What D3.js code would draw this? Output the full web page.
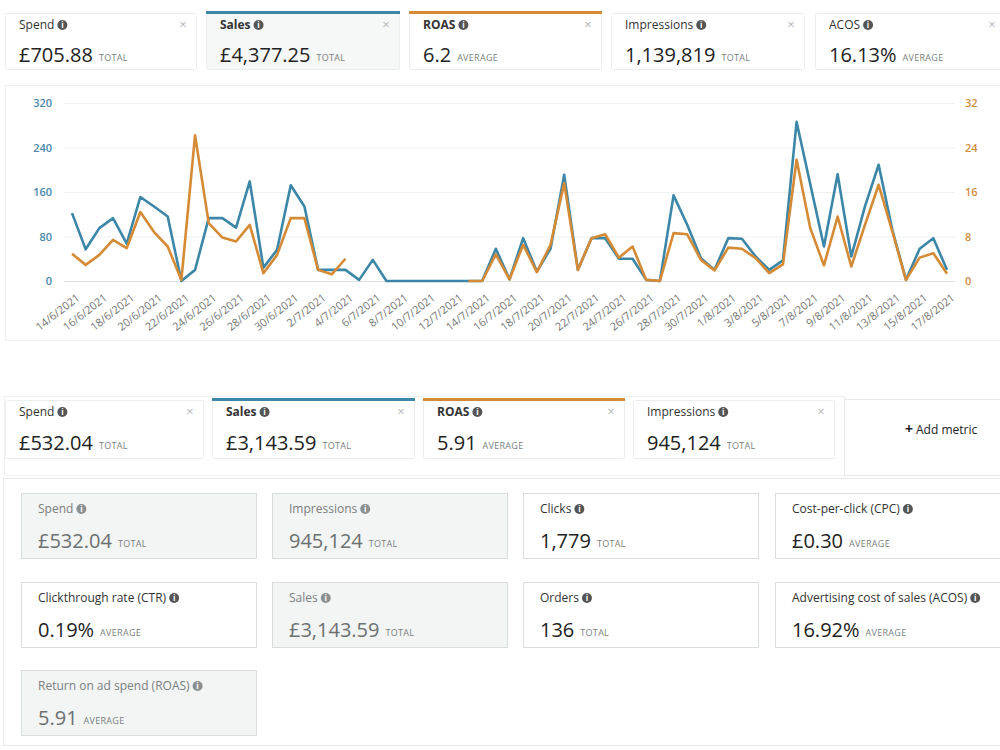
<!DOCTYPE html>
<html>
<head>
<meta charset="utf-8">
<script src="https://cdn.jsdelivr.net/npm/d3@7"></script>
<style>
    body { margin: 0; background: #fff; }
    svg { font-family: "Open Sans", "Noto Sans", sans-serif; display: block; }
</style>
</head>
<body>
<div id="dash"></div>
<script>
'use strict';

// Chart data
const dates = [
    '14/6/2021', '15/6/2021', '16/6/2021', '17/6/2021', '18/6/2021', '19/6/2021', '20/6/2021', '21/6/2021',
    '22/6/2021', '23/6/2021', '24/6/2021', '25/6/2021', '26/6/2021', '27/6/2021', '28/6/2021', '29/6/2021',
    '30/6/2021', '1/7/2021', '2/7/2021', '3/7/2021', '4/7/2021', '5/7/2021', '6/7/2021', '7/7/2021',
    '8/7/2021', '9/7/2021', '10/7/2021', '11/7/2021', '12/7/2021', '13/7/2021', '14/7/2021', '15/7/2021',
    '16/7/2021', '17/7/2021', '18/7/2021', '19/7/2021', '20/7/2021', '21/7/2021', '22/7/2021', '23/7/2021',
    '24/7/2021', '25/7/2021', '26/7/2021', '27/7/2021', '28/7/2021', '29/7/2021', '30/7/2021', '31/7/2021',
    '1/8/2021', '2/8/2021', '3/8/2021', '4/8/2021', '5/8/2021', '6/8/2021', '7/8/2021', '8/8/2021',
    '9/8/2021', '10/8/2021', '11/8/2021', '12/8/2021', '13/8/2021', '14/8/2021', '15/8/2021', '16/8/2021',
    '17/8/2021'
];
const salesValues = [
    122, 57, 95, 113, 67, 151, 134, 116, 0, 20, 113, 113, 96, 179, 24, 56, 172, 134, 20, 20, 20,
    2, 38, 0, 0, 0, 0, 0, 0,
    0, 0, 58, 3, 77, 17, 58, 191, 20, 77, 77, 40, 40, 2,
    0, 154, 101, 41, 20, 77, 76, 44, 20, 37, 286, 174, 62, 192, 44, 134, 209, 92, 2, 58, 77, 20
];
const roasValues = [
    4.9, 2.9, 4.7, 7.4, 5.9, 12.4, 8.8, 6.2, 0.2, 26.2, 10.4, 7.8, 7.1, 10.1, 1.4, 4.7, 11.3, 11.3, 2.0, 1.2, 4.0,
    null, null, null, null, null, null, null, null,
    0, 0, 4.8, 0.3, 6.5, 1.6, 6.5, 17.6, 2.0, 7.7, 8.4, 4.2, 6.2, 0.2,
    0, 8.6, 8.4, 3.8, 1.9, 6.0, 5.8, 4.1, 1.4, 3.0, 21.8, 9.5, 2.8, 11.6, 2.6, 10.1, 17.3, 8.9, 0.2, 4.2, 5.0, 1.3
];
const salesTicks = [0, 80, 160, 240, 320];
const roasTicks = [0, 8, 16, 24, 32];

// Metric cards
const topLabels = ['Spend', 'Sales', 'ROAS', 'Impressions', 'ACOS'];
const topValues = ['£705.88', '£4,377.25', '6.2', '1,139,819', '16.13%'];
const topUnits = ['TOTAL', 'TOTAL', 'AVERAGE', 'TOTAL', 'AVERAGE'];

const midLabels = ['Spend', 'Sales', 'ROAS', 'Impressions'];
const midValues = ['£532.04', '£3,143.59', '5.91', '945,124'];
const midUnits = ['TOTAL', 'TOTAL', 'AVERAGE', 'TOTAL'];

const gridLabels = ['Spend', 'Impressions', 'Clicks', 'Cost-per-click (CPC)', 'Clickthrough rate (CTR)',
    'Sales', 'Orders', 'Advertising cost of sales (ACOS)', 'Return on ad spend (ROAS)'];
const gridValues = ['£532.04', '945,124', '1,779', '£0.30', '0.19%', '£3,143.59', '136', '16.92%', '5.91'];
const gridUnits = ['TOTAL', 'TOTAL', 'TOTAL', 'AVERAGE', 'AVERAGE', 'TOTAL', 'TOTAL', 'AVERAGE', 'AVERAGE'];
const gridMuted = [true, true, false, false, false, true, false, false, true];

// Colours
const blue = '#3c86a8';
const orange = '#d58a35';

/*
Dashboard
 */
class Dashboard {

    svgW = 1000;
    svgH = 750;

    constructor(_target) {
        this.target = _target;
        this.init();
    }

    init() {
        const vis = this;
        vis.svg = d3.select(`#${vis.target}`)
            .append('svg')
            .attr('width', vis.svgW)
            .attr('height', vis.svgH);

        vis.drawTopRow();
        vis.drawChart();
        vis.drawMidRow();
        vis.drawGrid();
    }

    // One metric card
    card(g, c) {
        g.append('rect')
            .attr('x', c.x + 0.5).attr('y', c.y + 0.5)
            .attr('width', c.w).attr('height', c.h)
            .attr('rx', c.rx || 0)
            .attr('fill', c.muted ? '#f3f4f4' : (c.bg || '#fff'))
            .attr('stroke', c.stroke || '#e4e6e6');
        if (c.accent) {
            g.append('rect')
                .attr('x', c.x).attr('y', c.y - 2)
                .attr('width', c.w + 1).attr('height', 3)
                .attr('fill', c.accent);
        }
        const label = g.append('text')
            .attr('x', c.x + c.pad).attr('y', c.y + c.labelY)
            .attr('font-size', 12)
            .attr('font-weight', c.accent ? 700 : 400)
            .attr('fill', c.muted ? '#7a7f80' : '#333')
            .text(c.label);
        const lw = label.node().getComputedTextLength();
        const ix = c.x + c.pad + lw + 8;
        const iy = c.y + c.labelY - 4;
        g.append('circle').attr('cx', ix).attr('cy', iy).attr('r', 5)
            .attr('fill', c.muted ? '#8a8f90' : '#555');
        g.append('text').attr('x', ix).attr('y', iy + 3)
            .attr('text-anchor', 'middle').attr('font-size', 8).attr('font-weight', 700)
            .attr('fill', '#fff').text('i');

        const val = g.append('text')
            .attr('x', c.x + c.pad).attr('y', c.y + c.valueY)
            .attr('font-size', 20)
            .attr('fill', c.muted ? '#6b7071' : '#222')
            .text(c.value);
        const vw = val.node().getComputedTextLength();
        g.append('text')
            .attr('x', c.x + c.pad + vw + 6).attr('y', c.y + c.valueY - 1)
            .attr('font-size', 9)
            .attr('letter-spacing', 0.3)
            .attr('fill', '#7a7f80')
            .text(c.unit);

        if (c.close) {
            g.append('text')
                .attr('x', c.x + c.w - 13).attr('y', c.y + c.labelY)
                .attr('text-anchor', 'middle')
                .attr('font-size', 13).attr('fill', '#b5b9ba')
                .text('×');
        }
    }

    drawTopRow() {
        const vis = this;
        const xs = [5, 206, 409, 611, 815];
        const ws = [191, 193, 192, 193, 190];
        const accents = [null, blue, orange, null, null];
        const g = vis.svg.append('g').attr('class', 'topRow');
        topLabels.forEach((d, i) => {
            vis.card(g, {
                x: xs[i], y: 13, w: ws[i], h: 56, rx: 2, pad: 14,
                labelY: 16, valueY: 49,
                label: d, value: topValues[i], unit: topUnits[i],
                accent: accents[i], bg: i === 1 ? '#f6f7f7' : '#fff', close: true,
                stroke: '#eceeee'
            });
        });
    }

    drawChart() {
        const vis = this;
        const g = vis.svg.append('g').attr('class', 'chart');

        g.append('rect')
            .attr('x', 5.5).attr('y', 85.5).attr('width', 1000).attr('height', 255)
            .attr('fill', 'none').attr('stroke', '#f0f1f1');

        const xScale = d3.scalePoint().domain(dates).range([72, 947]);
        const ySales = d3.scaleLinear().domain([0, 320]).range([281, 103]);
        const yRoas = d3.scaleLinear().domain([0, 32]).range([281, 103]);

        // Gridlines
        g.selectAll('.grid')
            .data(salesTicks)
            .join('line')
            .attr('class', 'grid')
            .attr('x1', 64).attr('x2', 955)
            .attr('y1', d => ySales(d) + 0.5).attr('y2', d => ySales(d) + 0.5)
            .attr('stroke', d => d === 0 ? '#dfe2e3' : '#eef0f0')
            .attr('stroke-width', 1);

        // Axes
        const leftAxis = d3.axisLeft(ySales).tickValues(salesTicks).tickSize(0).tickPadding(0);
        const rightAxis = d3.axisRight(yRoas).tickValues(roasTicks).tickSize(0).tickPadding(0);
        const la = g.append('g').attr('transform', 'translate(52,0)').call(leftAxis);
        const ra = g.append('g').attr('transform', 'translate(965,0)').call(rightAxis);
        [la, ra].forEach(a => {
            a.select('.domain').remove();
            a.selectAll('text')
                .attr('font-family', '"Open Sans", sans-serif')
                .attr('font-size', 11).attr('font-weight', 600);
        });
        la.selectAll('text').attr('fill', '#4a87ab');
        ra.selectAll('text').attr('fill', '#d08c3e');

        const bottomAxis = d3.axisBottom(xScale)
            .tickValues(dates.filter((d, i) => i % 2 === 0))
            .tickSize(0).tickPadding(0);
        const ba = g.append('g').attr('transform', 'translate(0,294)').call(bottomAxis);
        ba.select('.domain').remove();
        ba.selectAll('text')
            .attr('font-family', '"Open Sans", sans-serif')
            .attr('font-size', 11)
            .attr('fill', '#777')
            .attr('text-anchor', 'end')
            .attr('dy', '0.6em')
            .attr('transform', 'translate(4,0) rotate(-38)');

        // Lines
        const salesLine = d3.line()
            .defined(d => d != null)
            .x((d, i) => xScale(dates[i]))
            .y(d => ySales(d));
        const roasLine = d3.line()
            .defined(d => d != null)
            .x((d, i) => xScale(dates[i]))
            .y(d => yRoas(d));

        g.append('path')
            .datum(salesValues)
            .attr('d', salesLine)
            .attr('fill', 'none').attr('stroke', blue)
            .attr('stroke-width', 2.6).attr('stroke-linejoin', 'round');
        g.append('path')
            .datum(roasValues)
            .attr('d', roasLine)
            .attr('fill', 'none').attr('stroke', orange)
            .attr('stroke-width', 2.6).attr('stroke-linejoin', 'round');
    }

    drawMidRow() {
        const vis = this;
        const g = vis.svg.append('g').attr('class', 'midRow');

        g.append('rect')
            .attr('x', 4.5).attr('y', 396.5).attr('width', 840).attr('height', 79)
            .attr('fill', 'none').attr('stroke', '#eef0f0');

        const xs = [5, 212, 423, 633];
        const ws = [198, 202, 201, 201];
        const accents = [null, blue, orange, null];
        midLabels.forEach((d, i) => {
            vis.card(g, {
                x: xs[i], y: 400, w: ws[i], h: 58, rx: 2, pad: 14,
                labelY: 16, valueY: 50,
                label: d, value: midValues[i], unit: midUnits[i],
                accent: accents[i], close: true, stroke: '#eceeee'
            });
        });

        // Add metric box
        g.append('rect')
            .attr('x', 844.5).attr('y', 399.5).attr('width', 160).attr('height', 76)
            .attr('fill', '#fff').attr('stroke', '#e6e8e8');
        const t = g.append('text')
            .attr('x', 905).attr('y', 434)
            .attr('font-size', 12).attr('fill', '#222');
        t.append('tspan').attr('font-weight', 700).attr('font-size', 14).text('+');
        t.append('tspan').attr('dx', 3).text('Add metric');
    }

    drawGrid() {
        const vis = this;
        const g = vis.svg.append('g').attr('class', 'grid3');

        g.append('rect')
            .attr('x', 3.5).attr('y', 478.5).attr('width', 1000).attr('height', 267)
            .attr('fill', 'none').attr('stroke', '#e8eaea');

        const colX = [21, 272, 523, 775];
        const rowY = [493, 582, 670];
        gridLabels.forEach((d, i) => {
            vis.card(g, {
                x: colX[i % 4], y: rowY[Math.floor(i / 4)], w: 235, h: 65, pad: 17,
                labelY: 20, valueY: 55,
                label: d, value: gridValues[i], unit: gridUnits[i],
                muted: gridMuted[i], stroke: '#dadddd'
            });
        });
    }
}

new Dashboard('dash');
</script>
</body>
</html>
